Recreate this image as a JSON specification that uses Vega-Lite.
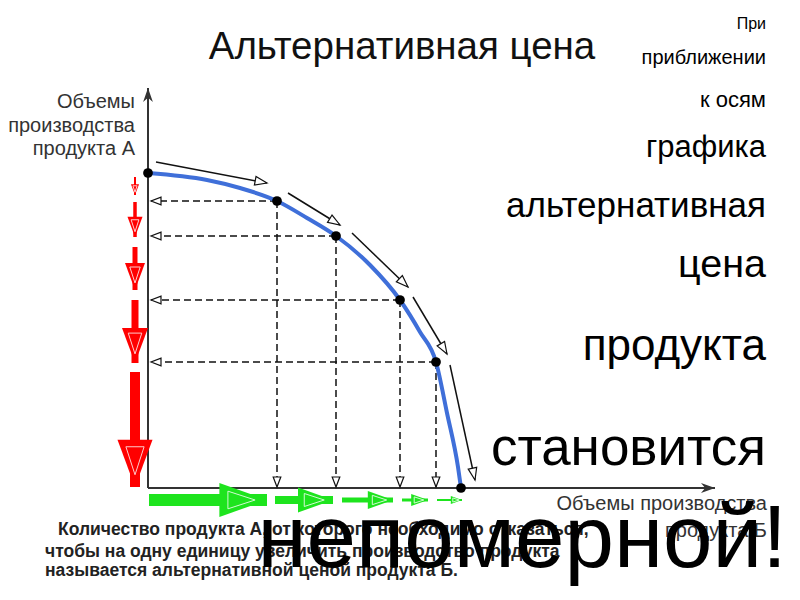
{
  "$schema": "https://vega.github.io/schema/vega-lite/v6.json",
  "autosize": {"type": "fit", "contains": "padding"},
  "width": 800,
  "height": 600,
  "padding": 0,
  "background": "white",
  "config": {"view": {"stroke": null}, "text": {"font": "Liberation Sans"}},
  "datasets": {
    "axes": [
      {"axis": "B", "x": 0, "y": 0, "x2": 567, "y2": 0},
      {"axis": "A", "x": 0, "y": 0, "x2": 0, "y2": 400}
    ],
    "curve": [
      {"x": 0, "y": 315}, {"x": 59, "y": 308}, {"x": 92, "y": 300}, {"x": 129, "y": 287},
      {"x": 159, "y": 270}, {"x": 188, "y": 252}, {"x": 222, "y": 223}, {"x": 252, "y": 188},
      {"x": 272, "y": 156}, {"x": 288, "y": 126}, {"x": 299, "y": 75}, {"x": 310, "y": 21},
      {"x": 313, "y": 0}
    ],
    "dots": [
      {"x": 0, "y": 315}, {"x": 129, "y": 287}, {"x": 188, "y": 252},
      {"x": 252, "y": 188}, {"x": 288, "y": 126}, {"x": 313, "y": 0}
    ],
    "dashes": [
      {"x": 129, "y": 287, "x2": 3, "y2": 287},
      {"x": 188, "y": 252, "x2": 3, "y2": 252},
      {"x": 252, "y": 188, "x2": 3, "y2": 188},
      {"x": 288, "y": 126, "x2": 3, "y2": 126},
      {"x": 129, "y": 287, "x2": 129, "y2": 1},
      {"x": 188, "y": 252, "x2": 188, "y2": 1},
      {"x": 252, "y": 188, "x2": 252, "y2": 1},
      {"x": 288, "y": 126, "x2": 288, "y2": 1}
    ],
    "moves": [
      {"x": 8, "y": 326, "x2": 119, "y2": 305},
      {"x": 140, "y": 295, "x2": 192, "y2": 263},
      {"x": 204, "y": 255, "x2": 260, "y2": 201},
      {"x": 265, "y": 191, "x2": 299, "y2": 134},
      {"x": 302, "y": 123, "x2": 327, "y2": 8}
    ],
    "lossA": [
      {"step": 1, "x": -13, "y": 311, "y2": 293},
      {"step": 2, "x": -13, "y": 286, "y2": 251},
      {"step": 3, "x": -13, "y": 241, "y2": 198},
      {"step": 4, "x": -13, "y": 188, "y2": 125},
      {"step": 5, "x": -13, "y": 116, "y2": 1}
    ],
    "gainB": [
      {"step": 1, "x": 1, "x2": 119, "y": -12},
      {"step": 2, "x": 127, "x2": 185, "y": -12},
      {"step": 3, "x": 194, "x2": 245, "y": -12},
      {"step": 4, "x": 254, "x2": 280, "y": -12},
      {"step": 5, "x": 289, "x2": 314, "y": -12}
    ],
    "title": [{"text": "Альтернативная цена", "x": 254, "y": 429}],
    "side": [
      {"line": 1, "text": "При", "x": 618, "y": 459},
      {"line": 2, "text": "приближении", "x": 618, "y": 424},
      {"line": 3, "text": "к осям", "x": 618, "y": 381},
      {"line": 4, "text": "графика", "x": 618, "y": 331},
      {"line": 5, "text": "альтернативная", "x": 618, "y": 271},
      {"line": 6, "text": "цена", "x": 618, "y": 211},
      {"line": 7, "text": "продукта", "x": 618, "y": 128},
      {"line": 8, "text": "становится", "x": 618, "y": 23},
      {"line": 9, "text": "непомерной!", "x": 639, "y": -79}
    ],
    "axisLabels": [
      {"text": "Объемы", "x": -13, "y": 380},
      {"text": "производства", "x": -13, "y": 356},
      {"text": "продукта А", "x": -13, "y": 333},
      {"text": "Объемы производства", "x": 619, "y": -22},
      {"text": "продукта Б", "x": 619, "y": -49}
    ],
    "notes": [
      {"text": "Количество продукта А, от которого необходимо отказаться,", "x": -90, "y": -47},
      {"text": "чтобы на одну единицу увеличить производство продукта", "x": -103, "y": -69},
      {"text": "называется альтернативной ценой продукта Б.", "x": -103, "y": -88}
    ]
  },
  "resolve": {"scale": {"size": "independent", "strokeWidth": "independent"}},
  "layer": [
    {
      "data": {"name": "axes"},
      "mark": {"type": "rule", "color": "#333333", "strokeWidth": 2},
      "encoding": {
        "x": {"field": "x", "type": "quantitative", "scale": {"domain": [-148, 652], "nice": false, "zero": false}, "axis": null},
        "y": {"field": "y", "type": "quantitative", "scale": {"domain": [-112, 488], "nice": false, "zero": false}, "axis": null},
        "x2": {"field": "x2"},
        "y2": {"field": "y2"}
      }
    },
    {
      "data": {"name": "axes"},
      "transform": [{"calculate": "atan2(datum.y - datum.y2, datum.x2 - datum.x) * 180 / PI", "as": "ang"}],
      "mark": {"type": "point", "shape": "M0,0 L-1,-0.35 L-0.7,0 L-1,0.35 Z", "filled": true, "color": "#333333", "opacity": 1, "size": 784},
      "encoding": {
        "x": {"field": "x2", "type": "quantitative", "scale": {"domain": [-148, 652], "nice": false, "zero": false}, "axis": null},
        "y": {"field": "y2", "type": "quantitative", "scale": {"domain": [-112, 488], "nice": false, "zero": false}, "axis": null},
        "angle": {"field": "ang", "type": "quantitative", "scale": null}
      }
    },
    {
      "data": {"name": "dashes"},
      "mark": {"type": "rule", "color": "#111111", "strokeWidth": 1.5, "strokeDash": [7, 4]},
      "encoding": {
        "x": {"field": "x", "type": "quantitative", "scale": {"domain": [-148, 652], "nice": false, "zero": false}, "axis": null},
        "y": {"field": "y", "type": "quantitative", "scale": {"domain": [-112, 488], "nice": false, "zero": false}, "axis": null},
        "x2": {"field": "x2"},
        "y2": {"field": "y2"}
      }
    },
    {
      "data": {"name": "dashes"},
      "transform": [{"calculate": "atan2(datum.y - datum.y2, datum.x2 - datum.x) * 180 / PI", "as": "ang"}],
      "mark": {"type": "point", "shape": "M0,0 L-1,-0.38 L-1,0.38 Z", "filled": true, "fill": "white", "stroke": "#111111", "strokeWidth": 1.2, "opacity": 1, "size": 400},
      "encoding": {
        "x": {"field": "x2", "type": "quantitative", "scale": {"domain": [-148, 652], "nice": false, "zero": false}, "axis": null},
        "y": {"field": "y2", "type": "quantitative", "scale": {"domain": [-112, 488], "nice": false, "zero": false}, "axis": null},
        "angle": {"field": "ang", "type": "quantitative", "scale": null}
      }
    },
    {
      "data": {"name": "curve"},
      "mark": {"type": "line", "interpolate": "monotone", "color": "#3f6fd9", "strokeWidth": 4},
      "encoding": {
        "x": {"field": "x", "type": "quantitative", "scale": {"domain": [-148, 652], "nice": false, "zero": false}, "axis": null},
        "y": {"field": "y", "type": "quantitative", "scale": {"domain": [-112, 488], "nice": false, "zero": false}, "axis": null}
      }
    },
    {
      "data": {"name": "moves"},
      "mark": {"type": "rule", "color": "#111111", "strokeWidth": 1.5},
      "encoding": {
        "x": {"field": "x", "type": "quantitative", "scale": {"domain": [-148, 652], "nice": false, "zero": false}, "axis": null},
        "y": {"field": "y", "type": "quantitative", "scale": {"domain": [-112, 488], "nice": false, "zero": false}, "axis": null},
        "x2": {"field": "x2"},
        "y2": {"field": "y2"}
      }
    },
    {
      "data": {"name": "moves"},
      "transform": [{"calculate": "atan2(datum.y - datum.y2, datum.x2 - datum.x) * 180 / PI", "as": "ang"}],
      "mark": {"type": "point", "shape": "M0,0 L-1,-0.36 L-1,0.36 Z", "filled": true, "fill": "white", "stroke": "#111111", "strokeWidth": 1.2, "opacity": 1, "size": 576},
      "encoding": {
        "x": {"field": "x2", "type": "quantitative", "scale": {"domain": [-148, 652], "nice": false, "zero": false}, "axis": null},
        "y": {"field": "y2", "type": "quantitative", "scale": {"domain": [-112, 488], "nice": false, "zero": false}, "axis": null},
        "angle": {"field": "ang", "type": "quantitative", "scale": null}
      }
    },
    {
      "data": {"name": "dots"},
      "mark": {"type": "circle", "color": "black", "opacity": 1, "size": 95},
      "encoding": {
        "x": {"field": "x", "type": "quantitative", "scale": {"domain": [-148, 652], "nice": false, "zero": false}, "axis": null},
        "y": {"field": "y", "type": "quantitative", "scale": {"domain": [-112, 488], "nice": false, "zero": false}, "axis": null}
      }
    },
    {
      "data": {"name": "lossA"},
      "mark": {"type": "rule", "color": "#ff0000"},
      "encoding": {
        "x": {"field": "x", "type": "quantitative", "scale": {"domain": [-148, 652], "nice": false, "zero": false}, "axis": null},
        "y": {"field": "y", "type": "quantitative", "scale": {"domain": [-112, 488], "nice": false, "zero": false}, "axis": null},
        "y2": {"field": "y2"},
        "strokeWidth": {"field": "step", "type": "quantitative", "scale": {"type": "threshold", "domain": [1.5, 2.5, 3.5, 4.5], "range": [2, 3.5, 5, 7, 10]}, "legend": null}
      }
    },
    {
      "data": {"name": "lossA"},
      "mark": {"type": "point", "shape": "M0,0 L-0.5,-1.35 L0.5,-1.35 Z", "filled": true, "color": "#ff0000", "opacity": 1},
      "encoding": {
        "x": {"field": "x", "type": "quantitative", "scale": {"domain": [-148, 652], "nice": false, "zero": false}, "axis": null},
        "y": {"field": "y2", "type": "quantitative", "scale": {"domain": [-112, 488], "nice": false, "zero": false}, "axis": null},
        "size": {"field": "step", "type": "quantitative", "scale": {"type": "threshold", "domain": [1.5, 2.5, 3.5, 4.5], "range": [256, 900, 1600, 2704, 4900]}, "legend": null}
      }
    },
    {
      "data": {"name": "lossA"},
      "mark": {"type": "point", "shape": "M0,-0.35 L-0.26,-1.15 L0.26,-1.15 Z", "filled": false, "stroke": "white", "strokeWidth": 1, "opacity": 0.8},
      "encoding": {
        "x": {"field": "x", "type": "quantitative", "scale": {"domain": [-148, 652], "nice": false, "zero": false}, "axis": null},
        "y": {"field": "y2", "type": "quantitative", "scale": {"domain": [-112, 488], "nice": false, "zero": false}, "axis": null},
        "size": {"field": "step", "type": "quantitative", "scale": {"type": "threshold", "domain": [1.5, 2.5, 3.5, 4.5], "range": [256, 900, 1600, 2704, 4900]}, "legend": null}
      }
    },
    {
      "data": {"name": "gainB"},
      "mark": {"type": "rule", "color": "#1ee41e"},
      "encoding": {
        "x": {"field": "x", "type": "quantitative", "scale": {"domain": [-148, 652], "nice": false, "zero": false}, "axis": null},
        "y": {"field": "y", "type": "quantitative", "scale": {"domain": [-112, 488], "nice": false, "zero": false}, "axis": null},
        "x2": {"field": "x2"},
        "strokeWidth": {"field": "step", "type": "quantitative", "scale": {"type": "threshold", "domain": [1.5, 2.5, 3.5, 4.5], "range": [12, 8, 5, 3, 2]}, "legend": null}
      }
    },
    {
      "data": {"name": "gainB"},
      "mark": {"type": "point", "shape": "M0,0 L-1.4,-0.5 L-1.4,0.5 Z", "filled": true, "color": "#1ee41e", "opacity": 1},
      "encoding": {
        "x": {"field": "x2", "type": "quantitative", "scale": {"domain": [-148, 652], "nice": false, "zero": false}, "axis": null},
        "y": {"field": "y", "type": "quantitative", "scale": {"domain": [-112, 488], "nice": false, "zero": false}, "axis": null},
        "size": {"field": "step", "type": "quantitative", "scale": {"type": "threshold", "domain": [1.5, 2.5, 3.5, 4.5], "range": [4624, 2500, 1296, 576, 256]}, "legend": null}
      }
    },
    {
      "data": {"name": "gainB"},
      "mark": {"type": "point", "shape": "M-0.35,0 L-1.15,-0.26 L-1.15,0.26 Z", "filled": false, "stroke": "white", "strokeWidth": 1, "opacity": 0.8},
      "encoding": {
        "x": {"field": "x2", "type": "quantitative", "scale": {"domain": [-148, 652], "nice": false, "zero": false}, "axis": null},
        "y": {"field": "y", "type": "quantitative", "scale": {"domain": [-112, 488], "nice": false, "zero": false}, "axis": null},
        "size": {"field": "step", "type": "quantitative", "scale": {"type": "threshold", "domain": [1.5, 2.5, 3.5, 4.5], "range": [4624, 2500, 1296, 576, 256]}, "legend": null}
      }
    },
    {
      "data": {"name": "title"},
      "mark": {"type": "text", "fontSize": 38.5, "align": "center", "baseline": "alphabetic", "color": "#111111"},
      "encoding": {
        "x": {"field": "x", "type": "quantitative", "scale": {"domain": [-148, 652], "nice": false, "zero": false}, "axis": null},
        "y": {"field": "y", "type": "quantitative", "scale": {"domain": [-112, 488], "nice": false, "zero": false}, "axis": null},
        "text": {"field": "text"}
      }
    },
    {
      "data": {"name": "axisLabels"},
      "mark": {"type": "text", "fontSize": 20, "align": "right", "baseline": "alphabetic", "color": "#333333"},
      "encoding": {
        "x": {"field": "x", "type": "quantitative", "scale": {"domain": [-148, 652], "nice": false, "zero": false}, "axis": null},
        "y": {"field": "y", "type": "quantitative", "scale": {"domain": [-112, 488], "nice": false, "zero": false}, "axis": null},
        "text": {"field": "text"}
      }
    },
    {
      "data": {"name": "notes"},
      "mark": {"type": "text", "fontSize": 17.5, "fontWeight": "bold", "align": "left", "baseline": "alphabetic", "color": "#222222"},
      "encoding": {
        "x": {"field": "x", "type": "quantitative", "scale": {"domain": [-148, 652], "nice": false, "zero": false}, "axis": null},
        "y": {"field": "y", "type": "quantitative", "scale": {"domain": [-112, 488], "nice": false, "zero": false}, "axis": null},
        "text": {"field": "text"}
      }
    },
    {
      "data": {"name": "side"},
      "mark": {"type": "text", "align": "right", "baseline": "alphabetic", "color": "black"},
      "encoding": {
        "x": {"field": "x", "type": "quantitative", "scale": {"domain": [-148, 652], "nice": false, "zero": false}, "axis": null},
        "y": {"field": "y", "type": "quantitative", "scale": {"domain": [-112, 488], "nice": false, "zero": false}, "axis": null},
        "text": {"field": "text"},
        "size": {"field": "line", "type": "quantitative", "scale": {"type": "threshold", "domain": [1.5, 2.5, 3.5, 4.5, 5.5, 6.5, 7.5, 8.5], "range": [16, 20, 22, 31, 35, 39.5, 44, 53, 89]}, "legend": null}
      }
    }
  ]
}
